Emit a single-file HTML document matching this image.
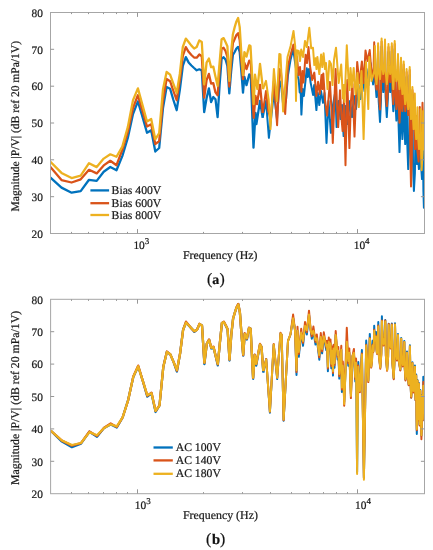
<!DOCTYPE html>
<html><head><meta charset="utf-8"><title>Figure</title>
<style>
html,body{margin:0;padding:0;background:#fff;}
svg{display:block;font-family:"Liberation Serif",serif;font-size:11.4px;fill:#1a1a1a;text-rendering:geometricPrecision;}
text{stroke:#1a1a1a;stroke-width:0.22px;}
</style></head><body>
<svg width="433" height="550" viewBox="0 0 433 550">
<rect width="433" height="550" fill="#fff"/>
<clipPath id="c1"><rect x="50.5" y="12.5" width="374.0" height="221.0"/></clipPath>
<clipPath id="c2"><rect x="50.6" y="299.3" width="373.9" height="194.4"/></clipPath>
<g clip-path="url(#c1)">
<path d="M50.2 177.4 L61.5 187.6 L71.6 192.7 L80.7 191.1 L89.0 179.8 L96.7 180.9 L103.7 171.8 L110.3 167.0 L116.5 170.2 L122.3 156.1 L127.8 138.0 L133.0 114.0 L137.9 101.4 L142.5 117.0 L147.0 132.7 L151.2 130.2 L155.3 151.5 L159.2 148.0 L163.0 108.0 L166.6 87.0 L170.1 88.7 L173.4 100.0 L176.7 110.2 L179.8 90.0 L182.8 66.0 L185.8 57.1 L188.6 62.4 L191.4 65.5 L194.1 68.0 L196.7 70.3 L199.3 69.3 L201.8 70.6 L204.2 112.1 L206.6 98.0 L208.9 88.3 L211.1 102.1 L213.3 97.0 L215.5 99.3 L217.6 117.1 L219.6 85.0 L221.6 58.6 L223.6 57.3 L225.5 59.5 L227.4 66.0 L229.3 93.4 L231.1 72.0 L232.9 55.0 L234.7 52.0 L236.4 48.5 L238.1 46.9 L239.7 52.0 L241.4 72.0 L243.0 92.7 L244.4 76.9 L246.5 85.1 L249.3 74.4 L250.8 76.0 L253.5 147.7 L255.5 112.9 L256.4 124.1 L260.0 100.9 L262.7 117.8" stroke="#0072BD" stroke-width="2.3" fill="none" stroke-linejoin="round"/>
<path d="M262.7 117.8 L266.0 100.9 L268.9 137.8 L273.9 92.9 L277.0 119.1 L279.6 80.9 L281.0 84.0 L283.6 109.1 L286.0 100.0 L288.0 75.0 L290.5 60.0 L293.2 48.9 L295.0 62.0 L296.5 72.0 L298.7 80.0 L299.7 92.5 L300.5 85.9 L301.4 114.6 L302.7 88.9 L303.9 95.9 L306.8 68.3 L307.8 77.1 L309.0 68.9 L310.5 82.0 L313.1 95.1 L314.2 84.9 L316.4 110.1 L317.8 92.9 L319.3 105.1 L321.0 90.9 L323.0 102.8 L324.5 92.9 L326.5 143.0 L328.5 100.9 L330.9 132.8 L333.0 105.0 L335.4 91.1 L336.6 127.1 L338.5 100.9 L340.5 119.1 L342.0 104.9 L343.6 136.1 L345.5 105.9 L347.5 124.1 L350.0 100.9 L352.0 117.1 L354.0 95.9 L356.0 109.1 L358.4 84.9 L360.5 99.1 L362.5 75.9 L364.5 91.1 L366.5 68.9 L368.5 85.1 L370.5 62.9 L373.1 84.4 L374.4 76.2 L375.0 55.9 L375.6 85.1 L376.5 97.1 L377.5 83.7 L378.1 51.3 L378.7 101.2 L380.0 122.0 L381.0 99.7 L381.6 46.4 L382.2 78.8 L383.3 92.1 L384.4 79.1 L385.0 47.6 L385.6 96.6 L386.8 117.1 L387.9 97.9 L388.5 51.9 L389.1 80.4 L390.2 92.1 L391.2 80.2 L391.8 51.3 L392.4 93.7 L393.3 111.3 L394.1 92.9 L394.7 48.9 L395.3 99.4 L396.4 120.6 L397.4 103.3 L398.0 61.9 L398.6 125.4 L399.5 152.1 L400.4 126.5 L401.0 65.7 L401.6 117.4 L402.4 139.1 L403.1 118.5 L403.7 69.4 L404.3 122.0 L405.2 144.1 L406.0 124.3 L406.6 76.9 L407.2 141.8 L408.2 169.1 L409.1 141.2 L409.7 74.9 L410.3 134.2 L411.0 159.1 L411.8 140.2 L412.4 94.9 L413.0 162.5 L413.9 190.9 L414.9 173.3 L415.5 130.9 L416.1 154.5 L417.0 164.1 L417.6 157.5 L418.0 140.9 L418.4 161.0 L418.9 169.1 L419.9 159.5 L420.5 135.9 L421.1 166.5 L422.0 179.1 L422.6 171.0 L423.0 150.9 L423.4 191.0 L423.9 207.7 L424.5 160.0" stroke="#0072BD" stroke-width="2.0" fill="none" stroke-linejoin="round"/>
<path d="M50.2 166.8 L61.5 180.1 L71.6 182.5 L80.7 179.3 L89.0 169.8 L96.7 173.4 L103.7 165.4 L110.3 160.8 L116.5 165.2 L122.3 149.9 L127.8 132.0 L133.0 108.0 L137.9 95.2 L142.5 111.0 L147.0 126.5 L151.2 124.3 L155.3 144.0 L159.2 141.1 L163.0 100.0 L166.6 79.0 L170.1 81.2 L173.4 91.0 L176.7 100.2 L179.8 80.0 L182.8 56.0 L185.8 47.1 L188.6 51.8 L191.4 55.0 L194.1 57.5 L196.7 57.7 L199.3 54.5 L201.8 56.2 L204.2 97.7 L206.6 80.0 L208.9 73.9 L211.1 83.5 L213.3 83.2 L215.5 92.4 L217.6 95.2 L219.6 70.0 L221.6 48.7 L223.6 47.8 L225.5 51.0 L227.4 57.0 L229.3 86.5 L231.1 62.0 L232.9 43.0 L234.7 39.0 L236.4 35.0 L238.1 33.2 L239.7 40.0 L241.4 62.0 L243.0 79.1 L244.4 62.9 L246.5 69.1 L249.3 60.6 L250.8 62.0 L253.7 117.8 L255.5 95.9 L257.0 104.1 L260.0 84.9 L262.7 112.8" stroke="#D95319" stroke-width="2.3" fill="none" stroke-linejoin="round"/>
<path d="M262.7 112.8 L266.0 90.9 L268.0 110.0 L270.5 119.1 L273.9 80.9 L277.1 125.3 L279.6 68.9 L281.0 72.0 L283.5 100.0 L285.2 114.0 L288.0 66.0 L290.5 55.0 L293.4 44.6 L295.5 59.1 L297.0 56.9 L298.5 75.1 L300.0 66.9 L301.4 91.7 L302.5 70.9 L303.5 82.5 L305.6 54.7 L307.0 63.1 L308.5 47.1 L310.0 66.0 L312.2 80.1 L314.3 72.6 L316.4 95.9 L318.1 81.8 L319.8 94.1 L321.5 74.9 L322.3 89.1 L323.3 73.5 L325.0 100.0 L327.1 115.6 L329.9 81.9 L331.5 110.0 L332.8 143.0 L335.6 68.9 L337.0 105.0 L338.2 127.1 L340.0 90.3 L341.5 118.0 L342.6 131.1 L344.0 97.9 L345.5 165.3 L347.3 79.9 L349.4 148.1 L351.0 100.0 L352.5 83.9 L354.5 136.6 L357.2 61.9 L359.4 83.1 L361.9 61.4 L363.6 83.1 L365.5 50.5 L367.5 61.1 L369.7 50.1 L372.0 79.1 L373.6 68.4 L374.2 42.2 L374.8 75.7 L376.5 89.6 L377.5 77.0 L378.1 46.3 L378.7 90.9 L380.0 109.5 L381.0 89.4 L381.6 41.4 L382.2 70.2 L383.3 82.1 L384.4 70.6 L385.0 42.6 L385.6 87.4 L386.8 106.1 L387.9 88.7 L388.5 46.9 L389.1 71.9 L390.2 82.1 L391.2 71.7 L391.8 46.3 L392.4 87.1 L393.3 104.1 L394.1 86.4 L394.7 43.9 L395.3 89.9 L396.4 109.1 L397.4 93.8 L398.0 56.9 L398.6 103.3 L399.5 122.7 L400.4 104.5 L401.0 60.7 L401.6 96.3 L402.4 111.1 L403.1 97.4 L403.7 64.4 L404.3 97.4 L405.2 111.1 L406.0 99.7 L406.6 71.9 L407.2 102.5 L408.2 115.1 L409.1 101.9 L409.7 69.9 L410.3 151.9 L411.0 186.5 L411.8 157.9 L412.4 89.9 L412.9 96.7 L413.6 100.0 L415.0 149.1 L415.9 139.5 L416.5 115.9 L417.1 148.2 L418.6 161.6 L419.3 145.6 L419.8 106.9 L420.4 143.8 L421.2 159.1 L421.9 142.5 L422.5 102.7 L423.1 128.5 L424.5 140.0" stroke="#D95319" stroke-width="2.0" fill="none" stroke-linejoin="round"/>
<path d="M50.2 161.5 L61.5 172.9 L71.6 178.1 L80.7 175.7 L89.0 163.2 L96.7 167.1 L103.7 158.6 L110.3 154.3 L116.5 156.8 L122.3 146.6 L127.8 127.1 L133.0 100.3 L137.9 88.4 L142.5 105.1 L147.0 121.5 L151.2 119.0 L155.3 139.3 L159.2 133.0 L163.0 89.2 L166.6 72.0 L170.1 74.7 L173.4 83.9 L176.7 92.9 L179.8 73.9 L182.8 47.0 L185.8 38.6 L188.6 42.0 L191.4 45.6 L194.1 48.5 L196.7 47.0 L199.3 40.4 L201.8 42.0 L204.2 84.4 L206.6 62.5 L208.9 58.5 L211.1 67.1 L213.3 66.6 L215.5 76.8 L217.6 85.8 L219.6 62.5 L221.6 39.2 L223.6 38.1 L225.5 42.0 L227.4 46.2 L229.3 80.9 L231.1 52.7 L232.9 34.2 L234.7 27.1 L236.4 21.4 L238.1 18.0 L239.7 27.1 L241.4 53.9 L243.0 75.2 L244.4 52.1 L246.5 56.6 L249.3 45.3 L250.5 46.0 L253.7 104.1 L255.0 74.6 L257.4 89.1 L260.0 63.9 L263.0 89.1" stroke="#EDB120" stroke-width="2.3" fill="none" stroke-linejoin="round"/>
<path d="M263.0 89.1 L266.0 80.9 L268.7 100.0 L270.5 129.1 L273.9 68.9 L276.8 101.1 L279.3 53.9 L280.5 54.4 L283.1 111.5 L287.5 57.0 L290.6 46.0 L293.5 30.9 L295.2 46.0 L296.0 100.9 L297.0 50.3 L298.7 51.0 L300.0 61.1 L301.2 49.6 L303.0 57.1 L305.0 40.9 L306.8 47.1 L309.3 27.8 L311.2 48.3 L313.0 47.8 L314.3 65.1 L315.5 58.3 L316.5 69.1 L317.4 56.9 L319.3 74.1 L321.1 54.6 L322.3 67.1 L323.6 53.3 L325.0 69.1 L326.0 62.9 L327.5 89.1 L329.4 60.9 L331.0 64.0 L332.5 85.1 L334.0 60.0 L336.0 47.7 L338.7 83.1 L341.2 64.5 L342.9 98.5 L343.8 84.9 L344.6 101.9 L346.8 45.2 L348.5 80.0 L349.6 90.1 L350.5 67.9 L352.0 87.1 L353.7 67.9 L355.5 94.1 L357.5 72.9 L358.8 107.1 L361.5 70.9 L363.6 139.1 L366.0 61.9 L368.3 109.1 L369.3 56.9 L371.5 81.1 L374.3 70.9 L374.9 45.9 L375.5 73.0 L376.5 84.1 L377.5 72.2 L378.1 43.3 L378.7 68.7 L380.0 79.1 L381.0 67.2 L381.6 38.4 L382.2 63.8 L383.3 74.1 L384.4 64.1 L385.0 39.6 L385.6 71.1 L386.8 84.1 L387.9 72.4 L388.5 43.9 L389.1 65.4 L390.2 74.1 L391.2 65.2 L391.8 43.3 L392.4 75.7 L393.3 89.1 L394.1 75.0 L394.7 40.9 L395.3 69.4 L396.4 81.1 L397.4 73.3 L398.0 53.9 L398.6 78.9 L399.5 89.1 L400.4 80.0 L401.0 57.7 L401.6 83.5 L402.4 94.1 L403.1 84.7 L403.7 61.4 L404.3 91.7 L405.2 104.1 L406.0 93.9 L406.6 68.9 L407.2 97.4 L408.2 109.1 L409.1 96.8 L409.7 66.9 L410.3 103.8 L411.0 119.1 L411.8 109.8 L412.4 86.9 L412.9 116.8 L413.6 129.1 L414.3 118.8 L414.8 93.6 L415.4 125.8 L416.2 139.1 L416.9 129.9 L417.5 107.3 L418.1 136.9 L419.0 149.1 L420.0 137.4 L420.6 108.9 L421.1 152.2 L421.6 170.3 L422.6 152.8 L423.2 110.9 L423.8 138.0 L424.5 150.0" stroke="#EDB120" stroke-width="2.0" fill="none" stroke-linejoin="round"/>
</g>
<rect x="50.5" y="12.5" width="374.0" height="221.0" fill="none" stroke="#a6a6a6" stroke-width="1"/>
<path d="M50.5 49.3h3.6M424.5 49.3h-3.6M50.5 86.2h3.6M424.5 86.2h-3.6M50.5 123.0h3.6M424.5 123.0h-3.6M50.5 159.8h3.6M424.5 159.8h-3.6M50.5 196.7h3.6M424.5 196.7h-3.6M71.5 233.5v-1.6M71.5 12.5v1.6M88.5 233.5v-1.6M88.5 12.5v1.6M103.5 233.5v-1.6M103.5 12.5v1.6M116.5 233.5v-1.6M116.5 12.5v1.6M127.5 233.5v-1.6M127.5 12.5v1.6M203.5 233.5v-1.6M203.5 12.5v1.6M242.5 233.5v-1.6M242.5 12.5v1.6M270.5 233.5v-1.6M270.5 12.5v1.6M291.5 233.5v-1.6M291.5 12.5v1.6M309.5 233.5v-1.6M309.5 12.5v1.6M323.5 233.5v-1.6M323.5 12.5v1.6M336.5 233.5v-1.6M336.5 12.5v1.6M347.5 233.5v-1.6M347.5 12.5v1.6M137.5 233.5v-4.4M137.5 12.5v4.4M357.5 233.5v-4.4M357.5 12.5v4.4" stroke="#969696" stroke-width="1" fill="none"/>
<text x="42.9" y="16.7" text-anchor="end">80</text>
<text x="42.9" y="53.5" text-anchor="end">70</text>
<text x="42.9" y="90.4" text-anchor="end">60</text>
<text x="42.9" y="127.2" text-anchor="end">50</text>
<text x="42.9" y="164.0" text-anchor="end">40</text>
<text x="42.9" y="200.9" text-anchor="end">30</text>
<text x="42.9" y="237.7" text-anchor="end">20</text>
<text x="133.4" y="248.6">10<tspan dy="-4.7" font-size="9">3</tspan></text>
<text x="353.7" y="248.6">10<tspan dy="-4.7" font-size="9">4</tspan></text>
<path d="M90.4 190.4H109.1" stroke="#0072BD" stroke-width="2.3"/>
<text x="111.6" y="194.0" font-size="11.7">Bias 400V</text>
<path d="M90.4 203.2H109.1" stroke="#D95319" stroke-width="2.3"/>
<text x="111.6" y="206.8" font-size="11.7">Bias 600V</text>
<path d="M90.4 215.0H109.1" stroke="#EDB120" stroke-width="2.3"/>
<text x="111.6" y="218.6" font-size="11.7">Bias 800V</text>
<text x="220.2" y="258.7" text-anchor="middle" font-size="11.8">Frequency (Hz)</text>
<text transform="translate(18.7 126.2) rotate(-90)" text-anchor="middle" font-size="11.55">Magnitude |P/V| (dB ref 20 mPa/1V)</text>
<text y="284" font-size="15.8" fill="#111"><tspan x="207.0">(</tspan><tspan x="212.2" font-size="14" font-weight="bold">a</tspan><tspan x="219.4">)</tspan></text>
<g clip-path="url(#c2)">
<path d="M50.6 430.6 L61.9 441.6 L71.9 447.2 L81.0 443.7 L89.4 431.8 L97.0 436.7 L104.1 427.9 L110.7 424.4 L116.8 427.5 L122.6 417.5 L128.1 400.1 L133.3 376.9 L138.2 366.5 L142.8 380.9 L147.3 396.6 L151.5 393.4 L155.6 412.0 L159.5 405.5 L163.3 367.1 L166.9 351.8 L170.3 354.4 L173.7 362.4 L176.9 371.6 L180.1 353.4 L183.1 329.7 L186.0 322.8 L188.9 325.7 L191.7 328.6 L194.4 331.9 L197.0 329.7 L199.5 324.1 L202.0 325.4 L204.4 364.2 L206.8 343.6 L209.1 339.9 L211.3 348.5 L213.5 347.4 L215.7 356.3 L217.8 365.4 L219.8 343.5 L221.9 323.1 L223.8 322.2 L225.8 325.7 L227.6 329.5 L229.5 360.5 L231.3 334.8 L233.1 318.7 L234.9 312.3 L236.6 307.5 L238.3 304.3 L239.9 312.6 L241.6 335.9 L243.2 355.6 L244.7 333.9 L246.9 339.5 L249.0 328.0 L250.6 328.6 L253.1 378.8 L254.7 355.0 L256.2 365.5 L260.0 344.6 L261.5 346.6 L263.3 372.5" stroke="#0072BD" stroke-width="2.3" fill="none" stroke-linejoin="round"/>
<path d="M263.3 372.5 L266.2 359.1 L269.9 412.7 L273.7 344.8 L277.2 379.1 L280.5 333.4 L281.7 334.8 L283.6 420.8 L288.0 340.9 L290.5 334.5 L293.1 318.0 L295.0 329.9 L296.5 374.9 L297.5 330.8 L298.8 356.8 L301.2 332.5 L303.0 345.8 L305.0 326.0 L306.8 334.6 L309.0 314.7 L310.6 329.9 L311.8 338.7 L313.4 331.0 L315.5 344.5 L316.8 338.3 L319.3 359.7 L320.8 337.1 L322.1 353.3 L323.8 336.5 L326.3 350.2 L327.0 344.8 L327.9 371.3 L328.8 341.6 L329.6 351.2 L330.5 343.2 L331.3 368.3 L332.2 350.7 L333.0 375.6 L333.6 348.4 L334.5 367.7 L335.7 334.9 L337.6 359.5 L338.3 351.1 L339.3 378.6 L341.3 349.7 L341.9 392.0 L342.8 365.8 L343.4 374.7 L344.2 402.0 L346.8 341.7 L348.3 365.7 L349.3 352.7 L350.9 394.0 L352.5 356.2 L353.9 353.1 L355.3 381.5 L356.0 362.9 L357.1 472.0 L358.3 362.0 L359.9 391.0 L361.9 350.0 L363.9 477.8 L366.2 340.5 L368.3 380.5 L369.8 333.9 L371.2 366.4 L372.0 359.0 L372.6 340.7 L372.9 348.4 L373.3 351.2 L373.8 343.9 L374.2 325.8 L374.6 336.2 L375.2 340.2 L375.6 338.0 L376.0 331.9 L376.4 347.2 L377.0 353.3 L377.7 344.3 L378.3 322.0 L378.9 354.0 L380.3 367.2 L381.3 352.2 L381.9 316.2 L382.5 336.5 L383.6 344.7 L384.7 337.7 L385.3 320.1 L385.9 355.3 L387.1 369.9 L388.1 356.4 L388.7 323.7 L389.3 340.9 L390.6 347.8 L391.3 340.9 L391.8 323.5 L392.4 362.4 L393.7 378.5 L394.4 362.3 L395.0 323.3 L395.6 349.2 L396.8 359.7 L397.5 352.4 L398.0 333.9 L398.6 359.5 L400.3 369.9 L400.8 360.7 L401.2 337.9 L401.8 357.7 L402.8 365.6 L403.7 358.6 L404.3 341.1 L404.8 368.4 L405.5 379.6 L406.4 371.6 L407.0 351.6 L407.6 375.3 L408.7 384.9 L409.4 373.4 L409.9 345.3 L410.5 382.2 L411.2 397.5 L411.9 387.3 L412.4 362.3 L412.9 383.4 L413.5 392.0 L414.3 384.4 L414.9 365.6 L415.2 390.1 L415.6 400.1 L415.9 392.8 L416.2 374.6 L416.5 416.5 L416.8 433.9 L417.2 418.1 L417.5 380.1 L417.8 408.5 L418.2 420.1 L418.6 409.4 L418.9 383.1 L419.2 412.7 L419.6 424.8 L420.0 414.7 L420.3 390.0 L420.6 410.8 L421.0 420.1 L421.4 435.7 L421.8 423.9 L422.2 395.1 L422.5 413.0 L422.8 420.1 L423.1 407.5 L423.3 376.8 L423.6 394.8 L424.0 402.0 L424.5 383.9" stroke="#0072BD" stroke-width="2.0" fill="none" stroke-linejoin="round"/>
<path d="M50.6 430.5 L61.9 440.6 L71.9 445.6 L81.0 443.2 L89.4 431.5 L97.0 435.9 L104.1 427.7 L110.7 423.5 L116.8 426.9 L122.6 417.5 L128.1 400.5 L133.3 376.5 L138.2 365.6 L142.8 380.8 L147.3 395.7 L151.5 392.6 L155.6 411.0 L159.5 405.3 L163.3 366.8 L166.9 351.5 L170.3 354.4 L173.7 362.1 L176.9 370.7 L180.1 353.3 L183.1 330.0 L186.0 321.7 L188.9 325.2 L191.7 328.8 L194.4 331.3 L197.0 329.7 L199.5 323.8 L202.0 325.7 L204.4 362.9 L206.8 343.8 L209.1 339.4 L211.3 347.7 L213.5 346.6 L215.7 356.3 L217.8 364.3 L219.8 343.8 L221.9 323.2 L223.8 321.6 L225.8 325.4 L227.6 329.0 L229.5 359.7 L231.3 334.7 L233.1 318.5 L234.9 312.5 L236.6 307.1 L238.3 303.9 L239.9 312.3 L241.6 335.8 L243.2 355.1 L244.7 333.1 L246.9 338.6 L249.0 327.7 L250.6 328.7 L253.1 377.9 L254.7 354.7 L256.2 364.0 L260.0 344.0 L261.5 347.1 L263.3 371.1" stroke="#D95319" stroke-width="2.3" fill="none" stroke-linejoin="round"/>
<path d="M263.3 371.1 L266.2 358.9 L269.9 411.8 L273.7 343.9 L277.2 377.8 L280.5 332.8 L281.7 334.7 L283.6 420.2 L288.0 340.9 L290.5 334.4 L293.1 314.6 L295.0 330.2 L296.5 372.1 L297.5 326.7 L298.8 354.0 L301.2 328.8 L303.0 342.8 L305.0 322.0 L306.8 332.2 L309.0 310.7 L310.6 329.6 L311.8 336.3 L313.4 326.6 L315.5 341.9 L316.8 334.4 L319.3 357.3 L320.8 333.0 L322.1 351.3 L323.8 332.3 L326.3 347.7 L327.0 340.7 L327.9 368.4 L328.8 337.6 L329.6 348.8 L330.5 339.5 L331.3 366.0 L332.2 346.6 L333.0 373.0 L333.6 344.7 L334.5 365.0 L335.7 331.0 L337.6 356.9 L338.3 346.9 L339.3 376.2 L341.3 345.8 L341.9 389.5 L342.8 361.6 L343.4 375.2 L344.2 405.7 L346.8 327.8 L348.3 363.2 L349.3 348.6 L350.9 398.1 L352.5 356.2 L353.9 348.9 L355.3 379.2 L356.0 358.6 L357.1 374.0 L358.3 365.6 L359.9 392.3 L361.9 353.5 L363.9 477.8 L366.2 344.7 L368.3 382.1 L369.8 338.0 L371.2 367.6 L372.0 361.1 L372.6 344.8 L372.9 350.3 L373.3 352.2 L373.8 345.8 L374.2 329.8 L374.6 337.9 L375.2 341.2 L375.6 339.7 L376.0 335.8 L376.4 348.8 L377.0 353.8 L377.7 345.7 L378.3 325.5 L378.9 356.1 L380.3 368.7 L381.3 354.6 L381.9 320.5 L382.5 338.4 L383.6 345.5 L384.7 338.4 L385.3 320.6 L385.9 356.1 L387.1 370.8 L388.1 357.1 L388.7 323.9 L389.3 341.5 L390.6 348.5 L391.3 341.6 L391.8 324.3 L392.4 363.1 L393.7 379.2 L394.4 363.1 L395.0 324.4 L395.6 350.0 L396.8 360.4 L397.5 353.2 L398.0 335.3 L398.6 360.2 L400.3 370.4 L400.8 361.3 L401.2 338.9 L401.8 358.5 L402.8 366.4 L403.7 359.4 L404.3 341.9 L404.8 369.2 L405.5 380.4 L406.4 372.4 L407.0 352.7 L407.6 375.8 L408.7 385.2 L409.4 374.0 L409.9 346.5 L410.5 382.7 L411.2 397.8 L411.9 387.7 L412.4 363.1 L412.9 384.1 L413.5 392.5 L414.3 385.2 L414.9 366.9 L415.2 390.6 L415.6 400.3 L415.9 393.2 L416.2 375.5 L416.5 414.2 L416.8 430.3 L417.2 415.8 L417.5 380.7 L417.8 408.8 L418.2 420.4 L418.6 409.8 L418.9 383.8 L419.2 413.3 L419.6 425.5 L420.0 415.5 L420.3 390.9 L420.6 411.1 L421.0 420.1 L421.4 439.2 L421.8 426.6 L422.2 395.9 L422.5 413.4 L422.8 420.4 L423.1 409.3 L423.3 382.0 L423.6 399.3 L424.0 406.2 L424.5 388.2" stroke="#D95319" stroke-width="2.0" fill="none" stroke-linejoin="round"/>
<path d="M50.6 430.5 L61.9 440.5 L71.9 445.0 L81.0 443.0 L89.4 432.1 L97.0 435.3 L104.1 428.0 L110.7 424.3 L116.8 426.3 L122.6 417.4 L128.1 400.3 L133.3 376.7 L138.2 366.3 L142.8 380.9 L147.3 395.2 L151.5 393.2 L155.6 410.9 L159.5 405.5 L163.3 366.9 L166.9 351.9 L170.3 354.2 L173.7 362.3 L176.9 370.1 L180.1 353.5 L183.1 329.9 L186.0 322.6 L188.9 325.5 L191.7 328.6 L194.4 331.2 L197.0 329.9 L199.5 324.0 L202.0 325.5 L204.4 362.6 L206.8 343.5 L209.1 340.1 L211.3 347.6 L213.5 347.1 L215.7 356.0 L217.8 363.8 L219.8 343.5 L221.9 323.0 L223.8 322.1 L225.8 325.5 L227.6 329.2 L229.5 359.5 L231.3 334.9 L233.1 318.6 L234.9 312.4 L236.6 307.4 L238.3 304.5 L239.9 312.4 L241.6 335.9 L243.2 354.5 L244.7 333.8 L246.9 338.3 L249.0 328.1 L250.6 328.6 L253.1 377.7 L254.7 355.1 L256.2 363.9 L260.0 344.5 L261.5 346.9 L263.3 371.0" stroke="#EDB120" stroke-width="2.3" fill="none" stroke-linejoin="round"/>
<path d="M263.3 371.0 L266.2 359.4 L269.9 411.5 L273.7 344.5 L277.2 377.7 L280.5 333.5 L281.7 334.9 L283.6 419.6 L288.0 341.1 L290.5 334.2 L293.1 318.3 L295.0 329.9 L296.5 370.2 L297.5 330.8 L298.8 352.0 L301.2 332.6 L303.0 341.0 L305.0 325.8 L306.8 330.0 L309.0 314.5 L310.6 329.9 L311.8 334.0 L313.4 330.8 L315.5 340.0 L316.8 338.3 L319.3 355.0 L320.8 337.1 L322.1 349.0 L323.8 336.3 L326.3 345.9 L327.0 344.8 L327.9 366.6 L328.8 341.8 L329.6 347.0 L330.5 343.4 L331.3 363.7 L332.2 350.8 L333.0 371.2 L333.6 348.4 L334.5 362.9 L335.7 335.0 L337.6 355.0 L338.3 350.8 L339.3 374.0 L341.3 349.8 L341.9 387.5 L342.8 365.8 L343.4 374.9 L344.2 404.0 L346.8 341.8 L348.3 361.0 L349.3 352.8 L350.9 396.0 L352.5 355.9 L353.9 352.8 L355.3 377.0 L356.0 362.8 L357.1 474.0 L358.3 366.8 L359.9 391.0 L361.9 354.6 L363.9 479.8 L366.2 345.4 L368.3 380.8 L369.8 338.7 L371.2 366.6 L372.0 360.8 L372.6 345.8 L372.9 349.8 L373.3 351.3 L373.8 345.3 L374.2 330.8 L374.6 337.6 L375.2 340.5 L375.6 339.4 L376.0 336.8 L376.4 348.5 L377.0 353.0 L377.7 345.5 L378.3 326.6 L378.9 355.5 L380.3 367.4 L381.3 353.9 L381.9 321.2 L382.5 337.8 L383.6 344.4 L384.7 337.9 L385.3 321.6 L385.9 355.8 L387.1 369.9 L388.1 356.8 L388.7 325.1 L389.3 341.2 L390.6 347.6 L391.3 341.2 L391.8 325.1 L392.4 362.3 L393.7 377.7 L394.4 362.1 L395.0 324.5 L395.6 349.0 L396.8 359.0 L397.5 352.2 L398.0 335.1 L398.6 359.2 L400.3 369.0 L400.8 360.3 L401.2 338.8 L401.8 357.5 L402.8 365.0 L403.7 358.5 L404.3 342.0 L404.8 368.3 L405.5 379.0 L406.4 371.5 L407.0 352.8 L407.6 375.0 L408.7 384.0 L409.4 373.1 L409.9 346.3 L410.5 381.8 L411.2 396.5 L411.9 386.8 L412.4 363.2 L412.9 383.1 L413.5 391.0 L414.3 384.1 L414.9 366.8 L415.2 389.7 L415.6 399.1 L415.9 392.4 L416.2 375.8 L416.5 413.5 L416.8 429.1 L417.2 415.0 L417.5 380.8 L417.8 408.0 L418.2 419.1 L418.6 408.9 L418.9 383.8 L419.2 412.4 L419.6 424.1 L420.0 414.5 L420.3 390.8 L420.6 411.0 L421.0 420.0 L421.4 435.1 L421.8 423.7 L422.2 395.8 L422.5 412.5 L422.8 419.1 L423.1 409.5 L423.3 385.8 L423.6 402.5 L424.0 409.1 L424.5 391.9" stroke="#EDB120" stroke-width="2.0" fill="none" stroke-linejoin="round"/>
</g>
<rect x="50.6" y="299.3" width="373.9" height="194.4" fill="none" stroke="#a6a6a6" stroke-width="1"/>
<path d="M50.6 331.7h3.6M424.5 331.7h-3.6M50.6 364.1h3.6M424.5 364.1h-3.6M50.6 396.5h3.6M424.5 396.5h-3.6M50.6 428.9h3.6M424.5 428.9h-3.6M50.6 461.3h3.6M424.5 461.3h-3.6M71.5 493.7v-1.6M71.5 299.3v1.6M88.5 493.7v-1.6M88.5 299.3v1.6M103.5 493.7v-1.6M103.5 299.3v1.6M116.5 493.7v-1.6M116.5 299.3v1.6M127.5 493.7v-1.6M127.5 299.3v1.6M203.5 493.7v-1.6M203.5 299.3v1.6M242.5 493.7v-1.6M242.5 299.3v1.6M270.5 493.7v-1.6M270.5 299.3v1.6M291.5 493.7v-1.6M291.5 299.3v1.6M309.5 493.7v-1.6M309.5 299.3v1.6M323.5 493.7v-1.6M323.5 299.3v1.6M336.5 493.7v-1.6M336.5 299.3v1.6M347.5 493.7v-1.6M347.5 299.3v1.6M137.5 493.7v-4.4M137.5 299.3v4.4M357.5 493.7v-4.4M357.5 299.3v4.4" stroke="#969696" stroke-width="1" fill="none"/>
<text x="43.0" y="303.5" text-anchor="end">80</text>
<text x="43.0" y="335.9" text-anchor="end">70</text>
<text x="43.0" y="368.3" text-anchor="end">60</text>
<text x="43.0" y="400.7" text-anchor="end">50</text>
<text x="43.0" y="433.1" text-anchor="end">40</text>
<text x="43.0" y="465.5" text-anchor="end">30</text>
<text x="43.0" y="497.9" text-anchor="end">20</text>
<text x="134.8" y="508.8">10<tspan dy="-4.7" font-size="9">3</tspan></text>
<text x="355.1" y="508.8">10<tspan dy="-4.7" font-size="9">4</tspan></text>
<path d="M153.5 447.5H172.8" stroke="#0072BD" stroke-width="2.3"/>
<text x="175.7" y="451.1" font-size="11.7">AC 100V</text>
<path d="M153.5 460.4H172.8" stroke="#D95319" stroke-width="2.3"/>
<text x="175.7" y="464.0" font-size="11.7">AC 140V</text>
<path d="M153.5 473.8H172.8" stroke="#EDB120" stroke-width="2.3"/>
<text x="175.7" y="477.4" font-size="11.7">AC 180V</text>
<text x="220.4" y="518.5" text-anchor="middle" font-size="11.9">Frequency (Hz)</text>
<text transform="translate(18.7 397.9) rotate(-90)" text-anchor="middle" font-size="11.8">Magnitude |P/V| (dB ref 20 mPa/1V)</text>
<text y="543.6" font-size="15.8" fill="#111"><tspan x="206.1">(</tspan><tspan x="212.0" font-size="14.6" font-weight="bold">b</tspan><tspan x="220.0">)</tspan></text>
</svg>
</body></html>
